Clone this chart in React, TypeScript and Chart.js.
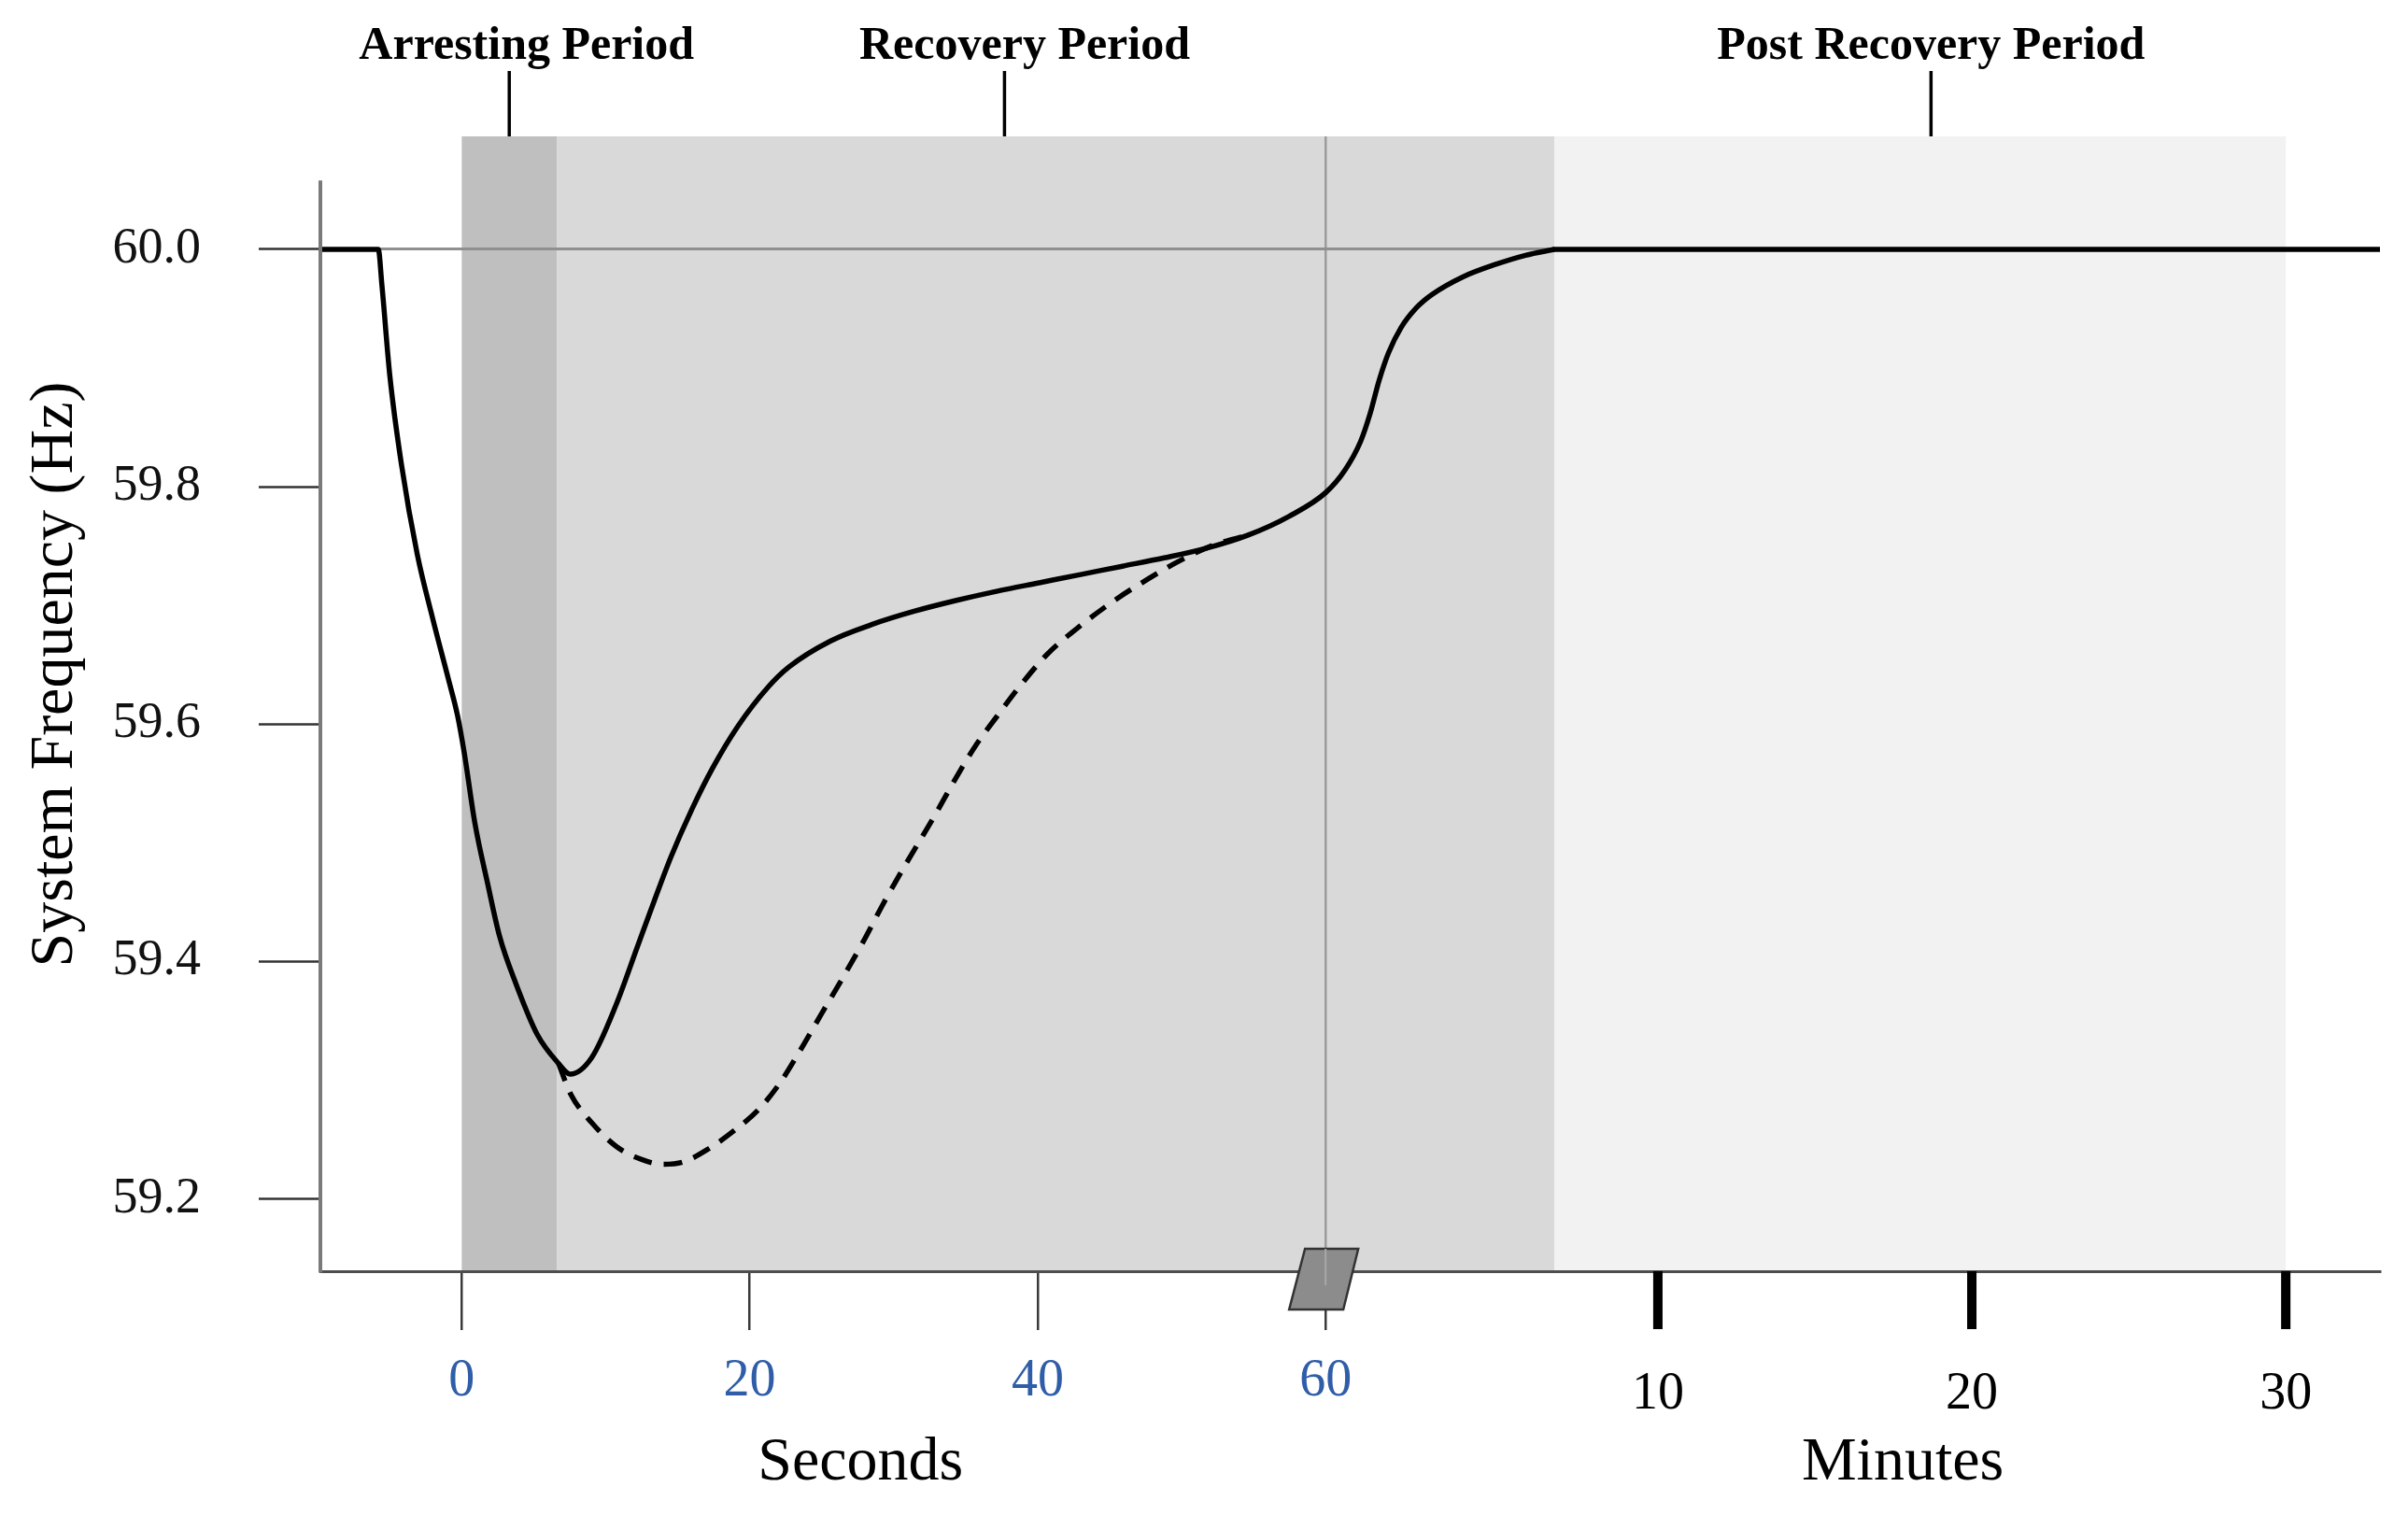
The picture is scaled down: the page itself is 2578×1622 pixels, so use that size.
import { useEffect, useRef } from "react";
import { Chart, registerables } from "chart.js";

Chart.register(...registerables);

const W = 2578;
const H = 1622;

// ---------- data ----------
const freqTicks = [59.2, 59.4, 59.6, 59.8, 60.0];
const secondTicks = [0, 20, 40, 60];
const minuteTicks = [10, 20, 30];

const solidSeconds = [
  -9.8, -5.8, -5.54, -5.0, -4.18, -3.09, -2.02, -0.93, -0.29, 0.17, 0.92, 1.79, 2.63, 3.8, 5.26, 6.72,
  7.53, 9.03, 10.74, 12.22, 13.37, 14.53, 15.98, 17.43, 19.17, 21.27, 22.72, 25.62, 28.52, 31.42, 34.3,
  37.21, 40.1, 42.99, 45.9, 48.79, 51.68, 54.58, 57.46, 60.01, 61.35, 62.43, 63.08, 63.73, 64.38, 65.24,
  66.33, 67.4, 69.57, 71.73, 73.89, 75.9,
];
const solidHz = [
  60.0, 60.0, 59.969, 59.894, 59.818, 59.743, 59.689, 59.638, 59.607, 59.576, 59.516, 59.466, 59.421, 59.38,
  59.338, 59.314, 59.305, 59.319, 59.364, 59.413, 59.451, 59.488, 59.528, 59.563, 59.598, 59.631, 59.648,
  59.67, 59.684, 59.695, 59.704, 59.712, 59.719, 59.726, 59.733, 59.74, 59.748, 59.759, 59.775, 59.795,
  59.814, 59.838, 59.861, 59.89, 59.913, 59.934, 59.951, 59.962, 59.977, 59.987, 59.995, 60.0,
];

const dashedSeconds = [
  6.72, 7.57, 9.03, 10.74, 12.5, 13.96, 15.4, 17.14, 18.88, 20.61, 22.07, 23.51, 24.95, 26.41, 27.86, 29.3,
  30.75, 32.86, 34.3, 35.76, 37.21, 38.64, 40.68, 42.99, 45.32, 47.64, 49.93, 52.27, 54.58,
];
const dashedHz = [
  59.314, 59.288, 59.264, 59.244, 59.233, 59.229, 59.231, 59.242, 59.257, 59.275, 59.297, 59.325, 59.355,
  59.385, 59.416, 59.449, 59.48, 59.523, 59.554, 59.583, 59.607, 59.63, 59.659, 59.683, 59.704, 59.722,
  59.738, 59.751, 59.759,
];

const postMinutes = [6.65, 33];
const postHz = [60.0, 60.0];

const periodNames = ["Arresting Period", "Recovery Period", "Post Recovery Period"];
const periodMarker = [3.3, 37.7, 18.7];
const periodLabelAt = [4.5, 39.1, 18.7];
const periodAxis = ["x", "x", "x2"];

const bandFrom = [0, 6.6, 75.9]; // seconds
const bandTo = [6.6, 75.9, 30];
const bandToAxis = ["x", "x", "x2"];

const nominalHz = 60.0;
const breakAtSecond = 60;
const yAxisTopHz = 60.058;
const secondsTitleAt = 27.7; // seconds
const minutesTitleAt = 17.8; // minutes

// ---------- style ----------
const FONT = '"Liberation Serif", "Times New Roman", serif';
const BAND_COLORS = ["#bfbfbf", "#d9d9d9", "#f2f2f2"];
const SECONDS_BLUE = "#2f5da8";
const TRANSPARENT = "rgba(0,0,0,0)";
const LINE_W = 5.5;

const decorPlugin = {
  id: "decor",
  beforeDraw(chart: any) {
    const { ctx, chartArea: a, scales } = chart;
    ctx.save();
    bandFrom.forEach((f, i) => {
      const x0 = scales.x.getPixelForValue(f);
      const x1 = scales[bandToAxis[i]].getPixelForValue(bandTo[i]);
      ctx.fillStyle = BAND_COLORS[i];
      ctx.fillRect(x0, a.top, x1 - x0, a.bottom - a.top);
    });
    ctx.restore();
  },
  afterDraw(chart: any) {
    const { ctx, chartArea: a, scales } = chart;
    const sx = scales.x;
    const sx2 = scales.x2;
    const sy = scales.y;
    ctx.save();

    // y axis line
    ctx.strokeStyle = "#7a7a7a";
    ctx.lineWidth = 4;
    ctx.beginPath();
    ctx.moveTo(a.left, sy.getPixelForValue(yAxisTopHz));
    ctx.lineTo(a.left, a.bottom + 1.5);
    ctx.stroke();

    // period labels with leader lines
    ctx.fillStyle = "#000";
    ctx.font = `bold 50px ${FONT}`;
    ctx.textAlign = "center";
    ctx.textBaseline = "alphabetic";
    periodNames.forEach((name, i) => {
      const sc = scales[periodAxis[i]];
      const px = sc.getPixelForValue(periodMarker[i]);
      ctx.fillText(name, sc.getPixelForValue(periodLabelAt[i]), 63);
      ctx.strokeStyle = "#000";
      ctx.lineWidth = 3.5;
      ctx.beginPath();
      ctx.moveTo(px, 76);
      ctx.lineTo(px, a.top);
      ctx.stroke();
    });

    // minute ticks and labels
    ctx.font = `56px ${FONT}`;
    ctx.textBaseline = "middle";
    minuteTicks.forEach((m) => {
      const px = sx2.getPixelForValue(m);
      ctx.fillRect(px - 5, a.bottom, 10, 62);
      ctx.fillText(String(m), px, a.bottom + 132);
    });

    // axis titles
    ctx.font = `66px ${FONT}`;
    ctx.textBaseline = "alphabetic";
    ctx.fillText("Seconds", sx.getPixelForValue(secondsTitleAt), a.bottom + 223);
    ctx.fillText("Minutes", sx2.getPixelForValue(minutesTitleAt), a.bottom + 223);

    ctx.save();
    ctx.translate(77, 722);
    ctx.rotate(-Math.PI / 2);
    ctx.fillText("System Frequency (Hz)", 0, 0);
    ctx.restore();

    // axis break symbol at 60 s
    const cx = sx.getPixelForValue(breakAtSecond);
    const cy = a.bottom;
    ctx.beginPath();
    ctx.moveTo(cx - 22, cy - 24);
    ctx.lineTo(cx + 35, cy - 24);
    ctx.lineTo(cx + 19, cy + 41);
    ctx.lineTo(cx - 39, cy + 41);
    ctx.closePath();
    ctx.fillStyle = "#8c8c8c";
    ctx.fill();
    ctx.strokeStyle = "#333";
    ctx.lineWidth = 2.5;
    ctx.stroke();
    ctx.strokeStyle = "#a8a8a8";
    ctx.lineWidth = 2;
    ctx.beginPath();
    ctx.moveTo(cx, cy - 24);
    ctx.lineTo(cx, cy + 15);
    ctx.stroke();

    ctx.restore();
  },
};

export default function App() {
  const ref = useRef<HTMLCanvasElement | null>(null);

  useEffect(() => {
    if (!ref.current) return;
    const chart = new Chart(ref.current, {
      type: "line",
      data: {
        datasets: [
          {
            label: "Frequency",
            data: solidSeconds.map((x, i) => ({ x, y: solidHz[i] })),
            xAxisID: "x",
            yAxisID: "y",
            borderColor: "#000",
            borderWidth: LINE_W,
            pointRadius: 0,
            cubicInterpolationMode: "monotone",
            fill: false,
          },
          {
            label: "Without response",
            data: dashedSeconds.map((x, i) => ({ x, y: dashedHz[i] })),
            xAxisID: "x",
            yAxisID: "y",
            borderColor: "#000",
            borderWidth: LINE_W,
            borderDash: [20, 13],
            pointRadius: 0,
            cubicInterpolationMode: "monotone",
            fill: false,
          },
          {
            label: "Post recovery",
            data: postMinutes.map((x, i) => ({ x, y: postHz[i] })),
            xAxisID: "x2",
            yAxisID: "y",
            borderColor: "#000",
            borderWidth: LINE_W,
            pointRadius: 0,
            fill: false,
          },
        ],
      },
      options: {
        animation: false,
        responsive: false,
        devicePixelRatio: 1,
        layout: { padding: { top: 146, right: 30, bottom: 0, left: 0 } },
        plugins: { legend: { display: false }, tooltip: { enabled: false } },
        scales: {
          x: {
            type: "linear",
            position: "bottom",
            min: -9.82,
            max: 133.24,
            afterBuildTicks: (s: any) => {
              s.ticks = secondTicks.map((v) => ({ value: v }));
            },
            afterFit: (s: any) => {
              s.height = H - 1361;
            },
            ticks: {
              autoSkip: false,
              maxRotation: 0,
              color: SECONDS_BLUE,
              font: { family: FONT, size: 56 },
              padding: 22,
              callback: (v: any) => String(v),
            },
            grid: {
              drawOnChartArea: true,
              drawTicks: true,
              tickLength: 63,
              tickWidth: 2.5,
              tickColor: "#3a3a3a",
              lineWidth: 2.5,
              color: (c: any) => (c.tick && c.tick.value === breakAtSecond ? "#9b9b9b" : TRANSPARENT),
            },
            border: { display: true, color: "#4d4d4d", width: 3 },
          },
          x2: {
            type: "linear",
            position: "bottom",
            display: false,
            min: -32.6,
            max: 33,
          },
          y: {
            type: "linear",
            position: "left",
            min: 59.1389,
            max: 60.0952,
            afterBuildTicks: (s: any) => {
              s.ticks = freqTicks.map((v) => ({ value: v }));
            },
            afterFit: (s: any) => {
              s.width = 343;
            },
            ticks: {
              color: "#111",
              font: { family: FONT, size: 54 },
              padding: 62,
              callback: (v: any) => Number(v).toFixed(1),
            },
            grid: {
              drawOnChartArea: true,
              drawTicks: true,
              tickLength: 66,
              tickWidth: 2.5,
              tickColor: "#333",
              lineWidth: 3,
              color: (c: any) => (c.tick && Math.abs(c.tick.value - nominalHz) < 1e-6 ? "#8f8f8f" : TRANSPARENT),
            },
            border: { display: false },
          },
        },
      },
      plugins: [decorPlugin],
    } as any);
    return () => chart.destroy();
  }, []);

  return (
    <div style={{ position: "fixed", left: 0, top: 0, width: W, height: H, background: "#fff" }}>
      <canvas ref={ref} width={W} height={H} style={{ display: "block", width: W, height: H }} />
    </div>
  );
}
